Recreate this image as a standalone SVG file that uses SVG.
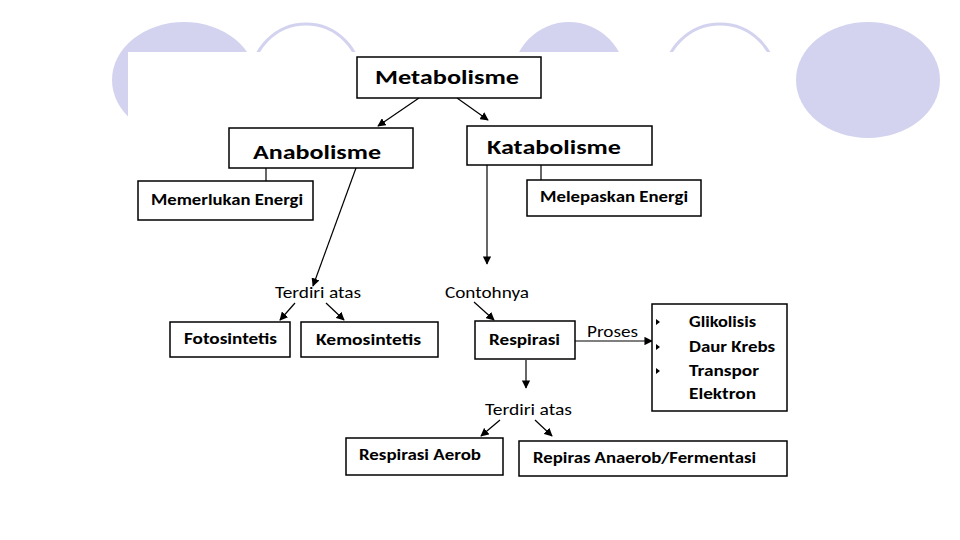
<svg xmlns="http://www.w3.org/2000/svg" width="960" height="540" viewBox="0 0 960 540">
<defs>
<marker id="a" viewBox="0 0 10 10" refX="9" refY="5" markerWidth="7" markerHeight="7" orient="auto-start-reverse"><path d="M0,0 L10,5 L0,10 z" fill="#000"/></marker>
<style>
.b{fill:#fff;stroke:#000;stroke-width:1.5}
.t{font-family:Calibri,Carlito,"Liberation Sans",sans-serif;font-weight:bold;fill:#000}
.n{font-family:Calibri,Carlito,"Liberation Sans",sans-serif;fill:#000;font-size:16px}
.c{stroke:#000;stroke-width:1.2;fill:none}
.bg{fill:#d3d3f0}
.r{fill:none;stroke:#d3d3f0;stroke-width:3}
</style>
</defs>
<rect width="960" height="540" fill="#fff"/>
<g id="bg">
<ellipse class="bg" cx="184" cy="80" rx="72" ry="58"/>
<ellipse class="r" cx="306" cy="80" rx="55" ry="56"/>
<ellipse class="bg" cx="569" cy="80" rx="57" ry="58"/>
<ellipse class="r" cx="720" cy="80" rx="56" ry="56"/>
<ellipse class="bg" cx="868" cy="80" rx="72" ry="58"/>
<rect x="128" y="52" width="667" height="488" fill="#fff"/>
</g>
<g id="connectors">
<line class="c" x1="419" y1="98" x2="378" y2="126" marker-end="url(#a)"/>
<line class="c" x1="457" y1="98" x2="488" y2="120" marker-end="url(#a)"/>
<line class="c" x1="266" y1="168" x2="266" y2="181"/>
<line class="c" x1="541" y1="165" x2="541" y2="180"/>
<line class="c" x1="356" y1="168" x2="313" y2="286" marker-end="url(#a)"/>
<line class="c" x1="487" y1="165" x2="487" y2="264" marker-end="url(#a)"/>
<line class="c" x1="295" y1="303" x2="280" y2="320" marker-end="url(#a)"/>
<line class="c" x1="326" y1="303" x2="344" y2="320" marker-end="url(#a)"/>
<line class="c" x1="474" y1="302" x2="494" y2="320" marker-end="url(#a)"/>
<line class="c" x1="575" y1="341" x2="652" y2="341" marker-end="url(#a)"/>
<line class="c" stroke-width="2" x1="526" y1="360" x2="526" y2="388" marker-end="url(#a)"/>
<line class="c" x1="500" y1="420" x2="481" y2="436" marker-end="url(#a)"/>
<line class="c" x1="535" y1="420" x2="552" y2="436" marker-end="url(#a)"/>
</g>
<g id="metabolisme"><rect class="b" x="357" y="57" width="184" height="41"/><text class="t" x="375" y="84" font-size="21" textLength="144" lengthAdjust="spacingAndGlyphs">Metabolisme</text></g>
<g id="anabolisme"><rect class="b" x="229" y="128" width="184" height="40"/><text class="t" x="253" y="159" font-size="21" textLength="128" lengthAdjust="spacingAndGlyphs">Anabolisme</text></g>
<g id="katabolisme"><rect class="b" x="467" y="126" width="185" height="39"/><text class="t" x="487" y="154" font-size="21" textLength="134" lengthAdjust="spacingAndGlyphs">Katabolisme</text></g>
<g id="memerlukan"><rect class="b" x="138" y="181" width="175" height="39"/><text class="t" x="151" y="205" font-size="16" textLength="152" lengthAdjust="spacingAndGlyphs">Memerlukan Energi</text></g>
<g id="melepaskan"><rect class="b" x="527" y="180" width="174" height="36"/><text class="t" x="540" y="202" font-size="16" textLength="148" lengthAdjust="spacingAndGlyphs">Melepaskan Energi</text></g>
<g id="terdiri1"><text class="n" x="275" y="298" textLength="86" lengthAdjust="spacingAndGlyphs">Terdiri atas</text></g>
<g id="contohnya"><text class="n" x="445" y="298" textLength="84" lengthAdjust="spacingAndGlyphs">Contohnya</text></g>
<g id="fotosintetis"><rect class="b" x="170" y="322" width="120" height="35"/><text class="t" x="184" y="344" font-size="16" textLength="93" lengthAdjust="spacingAndGlyphs">Fotosintetis</text></g>
<g id="kemosintetis"><rect class="b" x="301" y="322" width="137" height="35"/><text class="t" x="316" y="345" font-size="16" textLength="105" lengthAdjust="spacingAndGlyphs">Kemosintetis</text></g>
<g id="respirasi"><rect class="b" x="475" y="321" width="100" height="38"/><text class="t" x="489" y="345" font-size="16" textLength="71" lengthAdjust="spacingAndGlyphs">Respirasi</text></g>
<g id="proses"><text class="n" x="587" y="337" textLength="51" lengthAdjust="spacingAndGlyphs">Proses</text></g>
<g id="tahap"><rect class="b" x="652" y="304" width="135" height="107"/>
<path d="M656,319 l4,3 -4,3z M656,344 l4,3 -4,3z M656,368 l4,3 -4,3z" fill="#000"/>
<text class="t" font-size="16"><tspan x="689" y="327" textLength="67" lengthAdjust="spacingAndGlyphs">Glikolisis</tspan></text>
<text class="t" font-size="16"><tspan x="689" y="352" textLength="86" lengthAdjust="spacingAndGlyphs">Daur Krebs</tspan></text>
<text class="t" font-size="16"><tspan x="689" y="376" textLength="70" lengthAdjust="spacingAndGlyphs">Transpor</tspan></text>
<text class="t" font-size="16"><tspan x="689" y="399" textLength="67" lengthAdjust="spacingAndGlyphs">Elektron</tspan></text></g>
<g id="terdiri2"><text class="n" x="485" y="415" textLength="87" lengthAdjust="spacingAndGlyphs">Terdiri atas</text></g>
<g id="aerob"><rect class="b" x="346" y="438" width="157" height="37"/><text class="t" x="359" y="460" font-size="16" textLength="122" lengthAdjust="spacingAndGlyphs">Respirasi Aerob</text></g>
<g id="anaerob"><rect class="b" x="519" y="441" width="268" height="35"/><text class="t" x="533" y="463" font-size="16" textLength="223" lengthAdjust="spacingAndGlyphs">Repiras Anaerob/Fermentasi</text></g>
</svg>
